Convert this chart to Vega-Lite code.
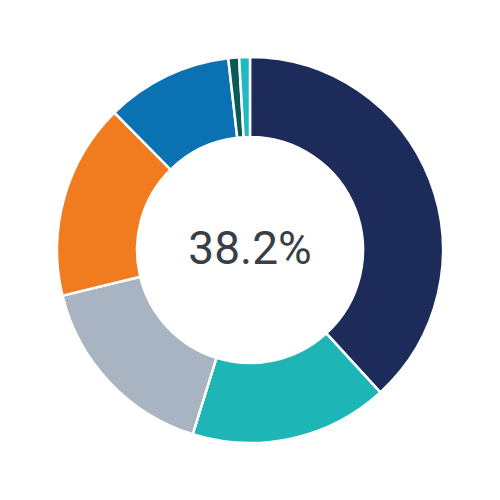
{
  "$schema": "https://vega.github.io/schema/vega-lite/v6.json",
  "width": 500,
  "height": 500,
  "padding": 0,
  "autosize": {"type": "fit", "contains": "padding"},
  "background": "white",
  "view": {"stroke": null},
  "datasets": {
    "slices": [
      {"segment": "A", "value": 38.2, "rank": 1},
      {"segment": "B", "value": 16.6, "rank": 2},
      {"segment": "C", "value": 16.4, "rank": 3},
      {"segment": "D", "value": 16.4, "rank": 4},
      {"segment": "E", "value": 10.6, "rank": 5},
      {"segment": "F", "value": 0.9, "rank": 6},
      {"segment": "G", "value": 0.9, "rank": 7}
    ],
    "center": [{"label": "38.2%"}]
  },
  "layer": [
    {
      "data": {"name": "slices"},
      "mark": {"type": "arc", "outerRadius": 193, "innerRadius": 113, "stroke": "white", "strokeWidth": 2.5},
      "encoding": {
        "theta": {"field": "value", "type": "quantitative", "stack": true},
        "order": {"field": "rank", "type": "quantitative", "sort": "ascending"},
        "color": {
          "field": "segment",
          "type": "nominal",
          "legend": null,
          "scale": {
            "domain": ["A", "B", "C", "D", "E", "F", "G"],
            "range": ["#1c2b5a", "#1db5b5", "#a9b4c2", "#f17c20", "#0a72b2", "#0b5a55", "#20b8c2"]
          }
        }
      }
    },
    {
      "data": {"name": "center"},
      "mark": {"type": "text", "fontSize": 46, "font": "Roboto", "color": "#3a3f47", "align": "center", "baseline": "middle"},
      "encoding": {"text": {"field": "label", "type": "nominal"}}
    }
  ]
}
